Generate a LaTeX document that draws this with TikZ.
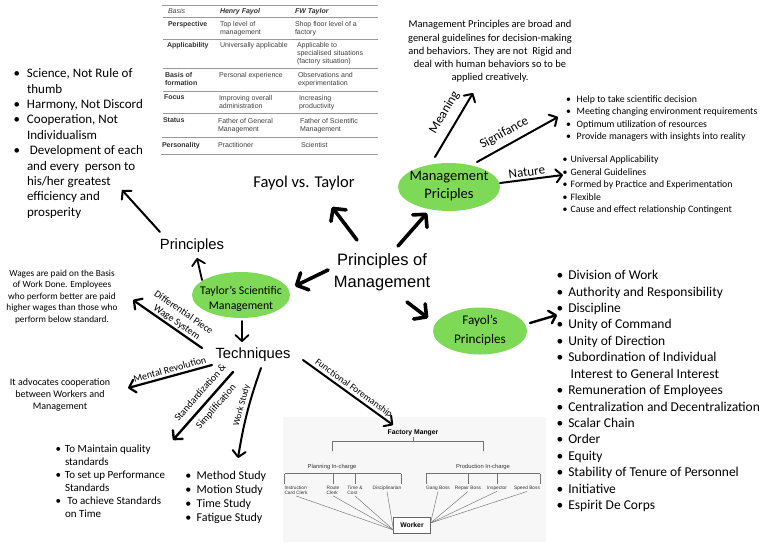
\documentclass[tikz,border=0pt]{standalone}
\usepackage{fontspec}
\setmainfont{Carlito}
\newfontfamily\arialf{Liberation Sans}
\usetikzlibrary{arrows.meta,shapes.geometric}
\definecolor{bubgreen}{HTML}{7ED957}
\newcommand\mybul[1][9pt]{\makebox[#1][l]{\textbullet}}
\newcommand\fs[2]{\fontsize{#1}{#2}\selectfont}
\begin{document}
\begin{tikzpicture}[x=1pt,y=-1pt,
  every node/.style={inner sep=0pt,outer sep=0pt},
  bubble/.style={ellipse,fill=bubgreen,draw=none},
  bigarr/.style={line width=3.6pt,line cap=round,-{Straight Barb[length=9pt,width=19pt,round]}},
  midarr/.style={line width=2pt,line cap=round,-{Straight Barb[length=6pt,width=13pt,round]}},
  lst/.style={anchor=west,align=left},
  lbl/.style={sloped,align=center,font=\fs{10}{12}},
  tabtxt/.style={anchor=north west,align=left,text=black!75,font=\arialf\fs{7}{8}},
  tabhead/.style={anchor=north west,align=left,text=black!80,font=\arialf\bfseries\fs{7}{8}},
  tabrule/.style={draw=black!40,line width=0.6pt},
  cl/.style={draw=black!55,line width=0.45pt},
  chl/.style={anchor=north,align=left,font=\arialf\fs{4.8}{5.4},text=black!80}]
\useasboundingbox (0,0) rectangle (768,544);
\fill[white] (0,0) rectangle (768,544);

% ---------- comparison table ----------
\draw[tabrule,line width=0.4pt] (162,5) -- (378,5);
\draw[tabrule] (163,17) -- (378,17);
\draw[tabrule] (163,39) -- (378,39);
\draw[tabrule] (163,68) -- (378,68);
\draw[tabrule] (163,91) -- (378,91);
\draw[tabrule] (163,113) -- (378,113);
\draw[tabrule] (162,137) -- (378,137);
\draw[tabrule,line width=1pt] (161,154) -- (378,154);
\node[tabtxt,font=\arialf\itshape\fs{7}{8}] (t0a) at (168,8) {Basis};
\node[tabhead,font=\arialf\bfseries\itshape\fs{7}{8}] (t0b) at (220,8) {Henry Fayol};
\node[tabhead,font=\arialf\bfseries\itshape\fs{7}{8}] (t0c) at (295,8) {FW Taylor};
\node[tabhead] (t1a) at (168,21) {Perspective};
\node[tabtxt] (t1b) at (220,21) {Top level of\\management};
\node[tabtxt] (t1c) at (295,21) {Shop floor level of a\\factory};
\node[tabhead] (t2a) at (167,42) {Applicability};
\node[tabtxt] (t2b) at (220,42) {Universally applicable};
\node[tabtxt] (t2c) at (297,42) {Applicable to\\specialised situations\\(factory situation)};
\node[tabhead] (t3a) at (165,72) {Basis of\\formation};
\node[tabtxt] (t3b) at (219,72) {Personal experience};
\node[tabtxt] (t3c) at (298,72) {Observations and\\experimentation};
\node[tabhead] (t4a) at (164,95) {Focus};
\node[tabtxt] (t4b) at (219,95) {Improving overall\\administration};
\node[tabtxt] (t4c) at (299,95) {Increasing\\productivity};
\node[tabhead] (t5a) at (163,118) {Status};
\node[tabtxt] (t5b) at (218,118) {Father of General\\Management};
\node[tabtxt] (t5c) at (300,118) {Father of Scientific\\Management};
\node[tabhead] (t6a) at (162,142) {Personality};
\node[tabtxt] (t6b) at (218,142) {Practitioner};
\node[tabtxt] (t6c) at (301,142) {Scientist};

% ---------- central nodes ----------
\node[font=\arialf\fs{16.5}{22},align=center] (pom) at (382,272) {Principles of\\Management};
\node[font=\fs{16.5}{20}] (fvt) at (304,183) {Fayol vs. Taylor};
\node[bubble,minimum width=102pt,minimum height=48pt] (mp) at (449,187) {};
\node[font=\fs{14.5}{18},align=center] (mpt) at (449,186) {Management\\Priciples};
\node[bubble,minimum width=98pt,minimum height=46pt] (tsm) at (241,295) {};
\node[font=\fs{11.8}{15.3},align=center] (tsmt) at (241,299) {Taylor's Scientific\\Management};
\node[bubble,minimum width=94pt,minimum height=47pt] (fp) at (480,331) {};
\node[font=\fs{13.2}{19},align=center] (fpt) at (480,330) {Fayol's\\Principles};
\node[font=\arialf\fs{14.8}{17}] (princ) at (192,246) {Principles};
\node[font=\arialf\fs{14.8}{17}] (tech) at (253,355) {Techniques};

% ---------- texts ----------
\node[font=\fs{10.5}{13.3},align=center] (mpdesc) at (490,51.5) {Management Principles are broad and\\general guidelines for decision-making\\and behaviors. They are not\ \ Rigid and\\deal with human behaviors so to be\\applied creatively.};
\node[lst,font=\fs{9.8}{12.2}] (sig) at (566,118.5) {\mybul[10.7pt]Help to take scientific decision\\\mybul[10.7pt]Meeting changing environment requirements\\\mybul[10.7pt]Optimum utilization of resources\\\mybul[10.7pt]Provide managers with insights into reality};
\node[lst,font=\fs{9.8}{12.5}] (nat) at (562.5,185) {\mybul[8.2pt]Universal Applicability\\\mybul[8.2pt]General Guidelines\\\mybul[8.2pt]Formed by Practice and Experimentation\\\mybul[8.2pt]Flexible\\\mybul[8.2pt]Cause and effect relationship Contingent};
\node[lst,font=\fs{13.5}{16.43}] (fay) at (556.6,391) {\mybul[11.7pt]Division of Work\\\mybul[11.7pt]Authority and Responsibility\\\mybul[11.7pt]Discipline\\\mybul[11.7pt]Unity of Command\\\mybul[11.7pt]Unity of Direction\\\mybul[11.7pt]Subordination of Individual\\\hspace*{14pt}Interest to General Interest\\\mybul[11.7pt]Remuneration of Employees\\\mybul[11.7pt]Centralization and Decentralization\\\mybul[11.7pt]Scalar Chain\\\mybul[11.7pt]Order\\\mybul[11.7pt]Equity\\\mybul[11.7pt]Stability of Tenure of Personnel\\\mybul[11.7pt]Initiative\\\mybul[11.7pt]Espirit De Corps};
\node[lst,font=\fs{13}{15.4}] (ll) at (13.5,143.5) {\mybul[13.5pt]Science, Not Rule of\\\hspace*{13.5pt}thumb\\\mybul[13.5pt]Harmony, Not Discord\\\mybul[13.5pt]Cooperation, Not\\\hspace*{13.5pt}Individualism\\\mybul[13.5pt]\ Development of each\\\hspace*{13.5pt}and every\ \ person to\\\hspace*{13.5pt}his/her greatest\\\hspace*{13.5pt}efficiency and\\\hspace*{13.5pt}prosperity};
\node[font=\fs{9.3}{11.5},align=center] (wages) at (62,297) {Wages are paid on the Basis\\of Work Done. Employees\\who perform better are paid\\higher wages than those who\\perform below standard.};
\node[font=\fs{10}{12},align=center] (coop) at (60,395) {It advocates cooperation\\between Workers and\\Management};
\node[lst,font=\fs{11}{13}] (bl) at (55.5,481.5) {\mybul[9.5pt]To Maintain quality\\\hspace*{9.5pt}standards\\\mybul[9.5pt]To set up Performance\\\hspace*{9.5pt}Standards\\\mybul[9.5pt]\ To achieve Standards\\\hspace*{9.5pt}on Time};
\node[lst,font=\fs{12}{14}] (ws) at (185.3,497) {\mybul[11.4pt]Method Study\\\mybul[11.4pt]Motion Study\\\mybul[11.4pt]Time Study\\\mybul[11.4pt]Fatigue Study};

% ---------- functional foremanship chart ----------
\fill[black!3] (283,417) rectangle (546,542);
\node[font=\arialf\bfseries\fs{6.8}{7.5}] (fm) at (413,433) {Factory Manger};
\node[font=\arialf\fs{5.8}{6.5},text=black!80] (pic) at (332,467) {Planning In-charge};
\node[font=\arialf\fs{5.8}{6.5},text=black!80] (prc) at (483,467) {Production In-charge};
\node[chl] (ic) at (296,486) {Instruction\\Card Clerk};
\node[chl] (rc) at (333,486) {Route\\Clerk};
\node[chl] (tc) at (355,486) {Time \&\\Cost};
\node[chl] (dis) at (387,486) {Disciplinarian};
\node[chl] (gb) at (438,486) {Gang Boss};
\node[chl] (rb) at (468,486) {Repair Boss};
\node[chl] (insp) at (497,486) {Inspector};
\node[chl] (sb) at (527,486) {Speed Boss};
\node[draw=black!60,line width=0.5pt,fill=white,minimum width=37pt,minimum height=16pt,font=\arialf\bfseries\fs{6.8}{7.5}] (wk) at (412,525) {Worker};
\draw[cl] ([yshift=-1pt]fm.south) -- ++(0,4) coordinate (j1);
\draw[cl] (j1 -| pic) -- (j1 -| prc);
\draw[cl] (j1 -| pic) -- ++(0,10);
\draw[cl] (j1 -| prc) -- ++(0,10);
\coordinate (h1) at ([yshift=-4pt]pic.south);
\draw[cl] (ic.north west |- h1) -- (dis.north east |- h1);
\draw[cl] (gb.north west |- h1) -- (sb.north east |- h1);
\foreach \n/\a in {ic/north west,rc/north,tc/north,dis/north east,gb/north west,rb/north,insp/north,sb/north east}
  \draw[cl] (\n.\a |- h1) -- ([yshift=2pt]\n.\a);
\foreach \n in {ic,rc,tc,dis}
  \draw[cl] ([yshift=-1pt]\n.south) -- ([yshift=-5pt]wk.west);
\foreach \n in {gb,rb,insp,sb}
  \draw[cl] ([yshift=-1pt]\n.south) -- ([yshift=2pt]wk.east);

% ---------- connectors ----------
\draw[bigarr] ([shift={(-25,-32)}]pom.center) -- ([shift={(28,24)}]fvt.center);
\draw[bigarr] ([shift={(16,-26)}]pom.center) -- ([shift={(-22,26)}]mp.center);
\draw[bigarr] ([shift={(-54,-2)}]pom.center) -- ([shift={(54,-9)}]tsm.center);
\draw[bigarr] ([shift={(25,30)}]pom.center) -- ([shift={(-52,-13)}]fp.center);

\draw[midarr] ([shift={(-14,-30)}]mp.center) -- node[lbl,pos=0.58,above=9pt,font=\fs{13}{15}] (lmean) {Meaning} ([shift={(-17,41.5)}]mpdesc.center);
\draw[midarr] ([shift={(28,-25)}]mp.center) -- node[lbl,pos=0.41,above=6.5pt,font=\fs{13}{15}] (lsig) {Signifance} ([shift={(-8,-1.5)}]sig.west);
\draw[midarr] ([shift={(51,-4)}]mp.center) -- node[lbl,pos=0.44,above=3pt,font=\fs{13}{15}] (lnat) {Nature} ([shift={(0.5,-10)}]nat.west);
\draw[midarr,line width=2.4pt] ([shift={(50,-8)}]fp.center) -- ([shift={(0.4,-76)}]fay.west);

\draw[midarr,line width=1.8pt] ([shift={(-39,-15)}]tsm.center) -- ([shift={(5,12)}]princ.center);
\draw[midarr] ([shift={(-32,-14)}]princ.center) -- ([shift={(108.5,46.5)}]ll.west);
\draw[midarr,line width=1.8pt] ([shift={(1,26)}]tsm.center) -- ([shift={(-11,-13)}]tech.center);

\draw[midarr,line width=2.2pt] ([shift={(-51,-7)}]tech.center) -- node[lbl,pos=0.42,above=2pt] (ldiff) {Differential Piece\\Wage System} ([shift={(71,3)}]wages.center);
\draw[midarr,line width=2.2pt] ([shift={(-41,10)}]tech.center) -- node[lbl,pos=0.48,above=3.5pt] (lment) {Mental Revolution} ([shift={(68,-7)}]coop.center);
\draw[midarr,line width=2.4pt] ([shift={(-20,17)}]tech.center) -- node[lbl,pos=0.41,font=\fs{10}{21}] (lstd) {Standardization \&\\Simplification} ([shift={(117.5,-41.5)}]bl.west);
\draw[midarr] ([shift={(8,13)}]tech.center) to[bend right=5] node[lbl,pos=0.44,above=3pt,font=\fs{9}{11}] (lwork) {Work Study} ([shift={(52.7,-39)}]ws.west);
\draw[midarr] ([shift={(50,5)}]tech.center) -- node[lbl,pos=0.52,above=2.5pt,font=\fs{9.5}{11}] (lfunc) {Functional Foremanship} ([shift={(-20,-8)}]fm.center);
\end{tikzpicture}
\end{document}
